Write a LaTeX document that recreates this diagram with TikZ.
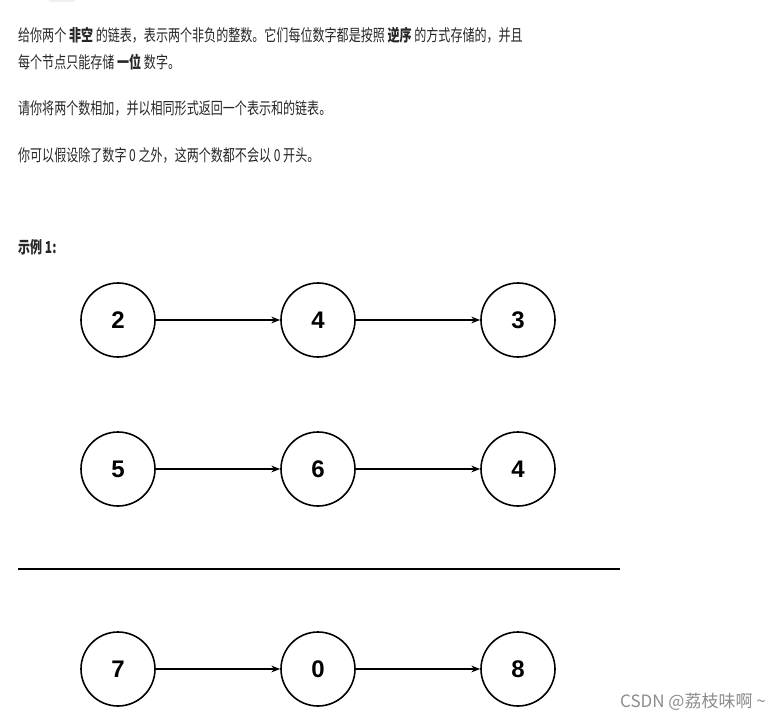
\documentclass[tikz,border=0pt]{standalone}
\usepackage{fontspec}
\setmainfont{Noto Sans CJK SC}
\newfontfamily\digitfont{Liberation Sans}
\usetikzlibrary{positioning, arrows.meta}
\tikzset{>=Stealth}

\begin{document}
\begin{tikzpicture}[x=1pt,y=-1pt,
    listnode/.style={circle,draw,line width=1.6pt,minimum size=74pt,inner sep=0pt,
        font=\digitfont\bfseries\fontsize{24}{24}\selectfont},
    link/.style={->,line width=1.3pt},
    para/.style={anchor=west,inner sep=0pt,xscale=0.73,transform shape,
        font=\fontsize{16.5}{18}\selectfont,text=black!85}]
    \useasboundingbox (0,0) rectangle (779,722);
    \fill[black!6,rounded corners=3pt] (48,-6) rectangle (76,2);

    % problem text
    \node[para] (p1) at (18,35) {给你两个 \textbf{非空} 的链表，表示两个非负的整数。它们每位数字都是按照 \textbf{逆序} 的方式存储的，并且};
    \node[para] (p2) at (18,62) {每个节点只能存储 \textbf{一位} 数字。};
    \node[para] (p3) at (18,108) {请你将两个数相加，并以相同形式返回一个表示和的链表。};
    \node[para] (p4) at (18,155) {你可以假设除了数字 0 之外，这两个数都不会以 0 开头。};
    \node[para] (ex) at (18,247) {\textbf{示例 1:}};

    % the three lists
    \foreach \row/\ya/\yb/\yc/\yy in {a/2/4/3/320, b/5/6/4/469, c/7/0/8/669}{
        \node[listnode] (\row1) at (118,\yy) {\ya};
        \node[listnode] (\row2) at (318,\yy) {\yb};
        \node[listnode] (\row3) at (518,\yy) {\yc};
        \draw[link] (\row1) -- (\row2);
        \draw[link] (\row2) -- (\row3);
    }

    % sum line
    \coordinate (s1) at (18,569);
    \coordinate (s2) at (620,569);
    \draw[line width=1.8pt] (s1) -- (s2);

    \node[anchor=east,inner sep=0pt,text=black!45,font=\fontsize{17}{19}\selectfont] (mark) at (766,702) {CSDN @荔枝味啊 \textasciitilde};
\end{tikzpicture}
\end{document}
